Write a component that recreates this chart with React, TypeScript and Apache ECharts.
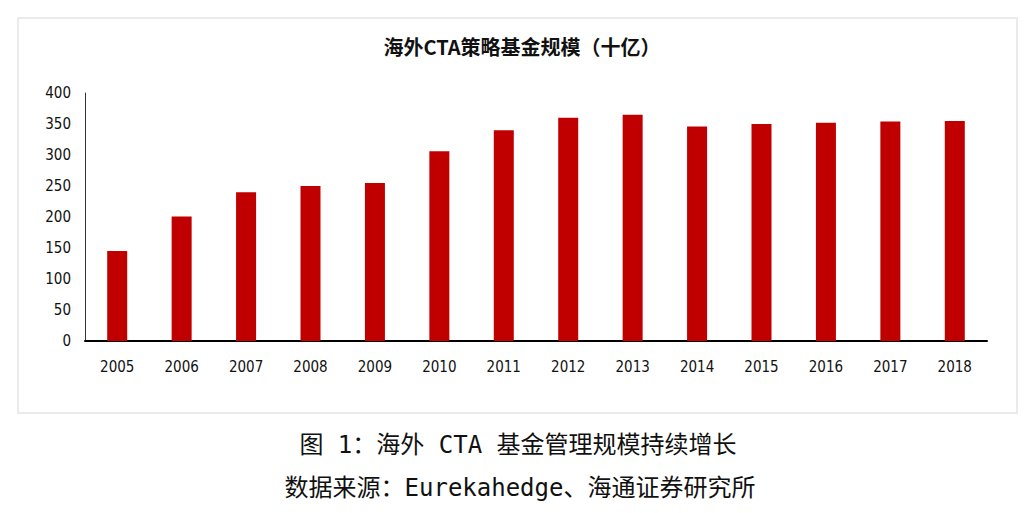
import React, { useEffect, useRef } from "react";
import * as echarts from "echarts";

// Overseas CTA strategy fund AUM, in billions
const years = ["2005", "2006", "2007", "2008", "2009", "2010", "2011", "2012", "2013", "2014", "2015", "2016", "2017", "2018"];
const aum = [145, 201, 240, 250, 255, 306, 340, 360, 365, 346, 350, 352, 354, 355];
const yTicks = { min: 0, max: 400, interval: 50 };

const chartTitle = "海外CTA策略基金规模（十亿）";
const captionLine1 = "图 1：海外 CTA 基金管理规模持续增长";
const captionLine2 = "数据来源：Eurekahedge、海通证券研究所";

const W = 1019;
const H = 497;

export default function App() {
  const ref = useRef<HTMLDivElement>(null);

  useEffect(() => {
    if (!ref.current) return;
    const chart = echarts.init(ref.current, undefined, { renderer: "svg" });
    const axisFont = "'DejaVu Sans Condensed', 'Liberation Sans Narrow', sans-serif";
    const captionFont = "'DejaVu Sans Mono', 'Noto Sans CJK SC', monospace";
    chart.setOption({
      animation: false,
      backgroundColor: "#ffffff",
      title: {
        text: chartTitle,
        left: 509,
        top: 23,
        textAlign: "center",
        textStyle: {
          fontFamily: "'Noto Sans CJK SC', sans-serif",
          fontSize: 20,
          fontWeight: "bold",
          color: "#111111",
        },
      },
      grid: { left: 77, right: 40, top: 85, bottom: 164, containLabel: false },
      xAxis: {
        type: "category",
        data: years,
        axisLine: { show: true, lineStyle: { color: "#000000", width: 2 } },
        axisTick: { show: false },
        axisLabel: {
          margin: 18,
          fontFamily: axisFont,
          fontSize: 15,
          color: "#111111",
        },
        splitLine: { show: false },
      },
      yAxis: {
        type: "value",
        min: yTicks.min,
        max: yTicks.max,
        interval: yTicks.interval,
        axisLine: { show: true, lineStyle: { color: "#333333", width: 1 } },
        axisTick: { show: false },
        axisLabel: {
          margin: 14,
          fontFamily: axisFont,
          fontSize: 15,
          color: "#111111",
        },
        splitLine: { show: false },
      },
      series: [
        {
          type: "bar",
          data: aum,
          barWidth: 20,
          itemStyle: { color: "#C00000" },
        },
      ],
      graphic: [
        {
          type: "rect",
          shape: { x: 10, y: 10, width: 999, height: 395 },
          style: { fill: "none", stroke: "#ebebeb", lineWidth: 2 },
          silent: true,
          z: -1,
        },
        {
          type: "text",
          x: 510,
          y: 437,
          style: {
            text: captionLine1,
            fontFamily: captionFont,
            fontSize: 24,
            fill: "#111111",
            align: "center",
            verticalAlign: "middle",
          },
        },
        {
          type: "text",
          x: 512,
          y: 480,
          style: {
            text: captionLine2,
            fontFamily: captionFont,
            fontSize: 24,
            fill: "#111111",
            align: "center",
            verticalAlign: "middle",
          },
        },
      ],
    });
    return () => chart.dispose();
  }, []);

  return <div ref={ref} style={{ width: W, height: H }} />;
}
